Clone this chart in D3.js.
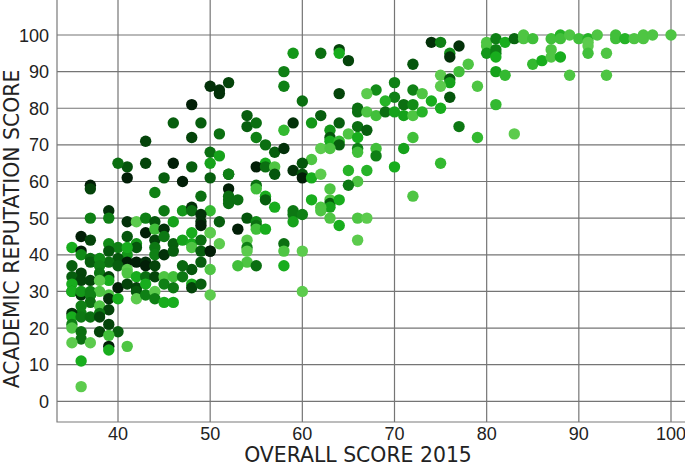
<!DOCTYPE html>
<html><head><meta charset="utf-8">
<script src="https://cdn.jsdelivr.net/npm/d3@7/dist/d3.min.js"></script>
<style>html,body{margin:0;padding:0;background:#fff}svg{display:block}</style>
</head><body><svg id="c" width="685" height="467"></svg>
<script>
const xLabel="OVERALL SCORE 2015", yLabel="ACADEMIC REPUTATION SCORE";
const xTicks=[40,50,60,70,80,90,100], yTicks=[0,10,20,30,40,50,60,70,80,90,100];
const overall=[
74,75,77,76,76,78,77,75,76,76, 75,79,76,74,75,81,77,79,83,75,
80,80,80,81,81,81,81,82,83,84, 84,85,81,82,85,86,87,87,87,88,
88,88,89,89,90,91,91,91,91,92, 93,93,94,94,95,96,97,97,98,100,
59,62,64,64,65,58,58,50,51,51, 52,60,64,72,70,68,67,70,72,73,
69,71,72,66,66,67,68,69,70,71, 72,73,54,54,55,59,61,62,64,58,
55,63,63,63,64,64,65,66,67,66, 56,57,58,50,51,50,62,63,66,66,
68,68,72,71,61,60,56,55,56,57, 59,57,60,60,61,62,65,67,70,50,
52,52,52,52,52,53,55,55,56,56, 57,61,63,63,63,63,64,62,62,66,
65,63,66,67,64,66,72,59,59,59, 60,50,51,54,55,55,55,53,56,50,
51,54,54,54,58,58,60,50,54,53, 55,58,50,50,60,48,46,49,51,48,
43,41,40,43,46,48,41,45,47,52, 44,49,37,37,39,39,37,41,42,43,
44,45,46,47,48,48,49,49,49,36, 37,35,36,36,41,42,42,43,44,44,
44,44,45,45,45,46,46,47,48,48, 48,49,49,49,50,50,39,40,41,41,
39,40,39,37,37,38,38,41,42,43, 43,44,40,35,36,35,36,37,38,39,
39,38,41,41,42,43,44,45,46,47, 48,47,35,35,35,36,37,36,37,38,
37,37,39,39,40,40,41,42,42,43, 42,43,44,44,45,45,46,46,48,48,
49,38,36,39,36,35,35,36,37,38, 38,35,35,39,36,38,40,39,36,35,
37,39,39,41,36,36];
const academic=[
98,98,97,95,94,92,90,89,88,87, 86,86,83,82,80,81,75,72,73,65,
98,97,95,99,96,95,94,98,99,100, 99,99,90,89,92,93,96,99,94,94,
100,99,100,89,99,99,98,97,95,100, 95,89,100,99,99,99,100,99,100,100,
95,95,96,95,93,90,86,86,85,84, 87,82,84,92,87,85,84,83,85,84,
82,81,81,80,79,79,78,79,79,78, 78,79,78,75,76,76,76,78,76,74,
72,74,72,71,71,70,73,75,74,72, 70,68,69,68,67,65,69,69,69,68,
69,67,72,69,66,65,65,64,64,64, 63,62,62,61,61,62,63,63,64,61,
62,58,56,55,54,55,59,58,56,55, 53,55,58,55,54,53,55,53,52,60,
59,50,50,50,48,44,56,52,51,49, 51,52,49,50,49,48,47,47,47,46,
43,44,42,41,43,41,41,41,38,37, 37,37,36,29,30,81,76,76,73,72,
71,64,65,65,65,64,61,61,60,62, 57,56,59,58,52,50,50,49,49,50,
49,52,49,52,53,52,51,49,48,45, 44,42,41,40,45,43,42,46,47,44,
42,40,47,45,40,43,41,44,46,43, 42,44,41,38,46,41,43,42,40,42,
41,39,38,39,38,39,37,38,38,38, 37,37,37,37,35,34,33,33,35,34,
33,33,36,35,34,34,34,34,34,34, 36,37,32,30,30,29,29,30,30,30,
29,27,29,28,31,28,32,31,30,32, 28,29,30,28,32,27,31,27,32,31,
32,26,26,25,24,24,23,23,23,24, 23,21,20,21,19,19,19,18,17,16,
16,15,14,15,11,4];
const tone=[
.05,.4,.05,.45,.05,.8,.75,.85,.15,.55, .85,.8,.15,.6,.6,.7,.35,.7,.85,.7,
.8,.8,.5,.4,.4,.4,.6,.6,.25,.8, .8,.75,.55,.7,.7,.6,.8,.75,.8,.6,
.65,.75,.8,.8,.75,.65,.85,.85,.75,.8, .8,.8,.75,.75,.65,.8,.8,.8,.8,.8,
.5,.3,.1,.6,.1,.4,.4,.05,.05,.05, .1,.3,.1,.15,.4,.45,.85,.4,.4,.8,
.65,.3,.45,.3,.3,.8,.75,.3,.55,.55, .8,.65,.2,.2,.3,.05,.5,.2,.2,.7,
.4,.5,.15,.6,.7,.2,.8,.3,.2,.6, .3,.2,.05,.3,.55,.55,.85,.8,.4,.75,
.75,.4,.75,.55,.8,.15,.6,.0,.3,.8, .05,.15,.15,.0,.6,.85,.65,.65,.6,.2,
.15,.0,.3,.3,.3,.3,.3,.75,.6,.2, .6,.6,.8,.8,.2,.55,.6,.8,.8,.8,
.35,.8,.8,.85,.6,.85,.8,.35,.35,.55, .4,.7,.2,.15,.45,.3,.75,.0,.6,.85,
.85,.85,.4,.85,.3,.8,.85,.0,.8,.75, .3,.6,.8,.85,.85,.0,.2,.2,.3,.1,
.1,.15,.3,.1,.0,.2,.0,.2,.0,.4, .4,.3,.0,.1,.05,.4,.4,.05,.85,.4,
.15,.35,.55,.5,.05,.3,.05,.05,.0,.0, .1,.6,.0,.45,.15,.5,.15,.0,.75,.1,
.35,.4,.05,.35,.05,.2,.2,.55,.6,.6, .8,.3,.2,.2,.85,.0,.45,.4,.5,.6,
.15,.15,.3,.3,.2,.45,.4,.0,.0,.05, .0,.1,.2,.2,.1,.2,.1,.1,.35,.1,
.6,.85,.85,.8,.6,.3,.1,.8,.75,.35, .15,.25,.6,.4,.6,.05,.05,.5,.4,.8,
.4,.3,.8,.05,.0,.6,.1,.1,.15,.6, .85,.4,.85,.4,.4,.6,.35,.6,.6,.1,
.2,.8,.4,.1,.4,.05,.6,.35,.3,.35, .1,.4,.8,.1,.3,.1,.2,.75,.3,.85,
.85,.0,.6,.8,.6,.85];

const W=685,H=467,L=57,B=422;
const x=d3.scaleLinear().domain([40,100]).range([118,671]);
const y=d3.scaleLinear().domain([0,100]).range([401.3,35]);
const color=d3.scaleLinear().domain([0,.15,.4,.6,.85])
  .range(["#021f07","#05560c","#0f8015","#18ad1d","#5ccb4d"]);
const svg=d3.select("#c");
const grid=svg.append("g").attr("stroke","#757575").attr("stroke-width",1.2);
grid.selectAll("line.v").data(xTicks).join("line").attr("class","v")
  .attr("x1",d=>x(d)).attr("x2",d=>x(d)).attr("y1",0).attr("y2",B);
grid.selectAll("line.h").data(yTicks).join("line").attr("class","h")
  .attr("y1",d=>y(d)).attr("y2",d=>y(d)).attr("x1",L).attr("x2",W);
svg.append("path").attr("d",`M${L},0V${B}H${W}`).attr("fill","none").attr("stroke","#7a7a7a").attr("stroke-width",1.2);
svg.append("g").selectAll("circle").data(overall.map((d,i)=>i)).join("circle")
  .attr("cx",i=>x(overall[i])).attr("cy",i=>y(academic[i])).attr("r",5.7)
  .attr("fill",i=>color(tone[i]));
const tf="'Liberation Sans',Arial,sans-serif", lf="'DejaVu Sans',sans-serif";
svg.append("g").selectAll("text").data(xTicks).join("text")
  .attr("x",d=>x(d)).attr("y",440).attr("text-anchor","middle")
  .attr("font-family",tf).attr("font-size",18).attr("fill","#222").text(d=>d);
svg.append("g").selectAll("text").data(yTicks).join("text")
  .attr("x",49).attr("y",d=>y(d)+6.5).attr("text-anchor","end")
  .attr("font-family",tf).attr("font-size",18).attr("fill","#222").text(d=>d);
svg.append("text").attr("x",358).attr("y",461.8).attr("text-anchor","middle")
  .attr("font-family",lf).attr("font-size",20.4).attr("fill","#222").text(xLabel);
svg.append("text").attr("transform","translate(19.3,229) rotate(-90)").attr("text-anchor","middle")
  .attr("font-family",lf).attr("font-size",20.4).attr("fill","#222").text(yLabel);
</script></body></html>
